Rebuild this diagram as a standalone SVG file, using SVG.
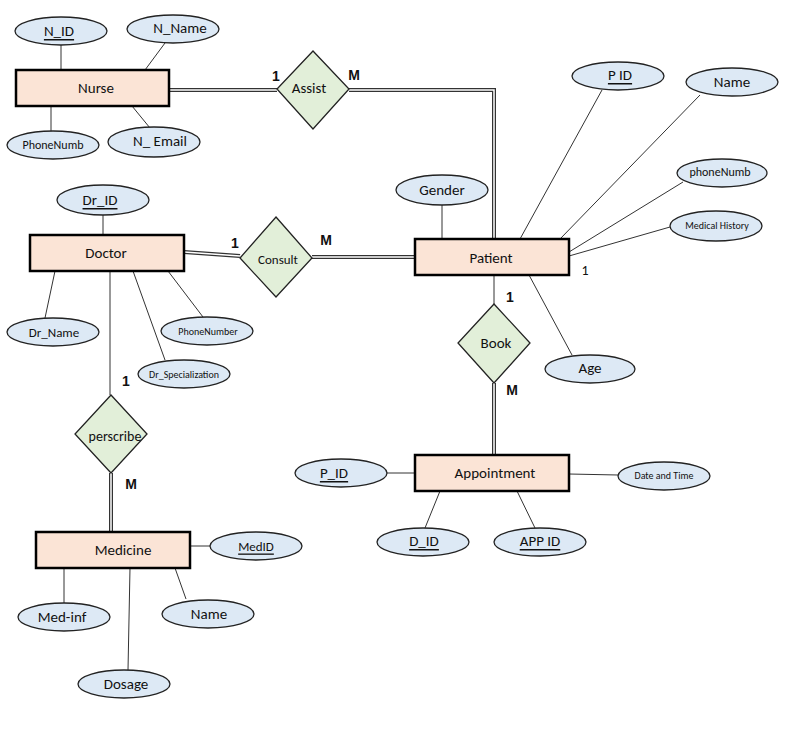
<svg xmlns="http://www.w3.org/2000/svg" width="796" height="729" viewBox="0 0 796 729">
<style>
.e{fill:#fbe4d6;stroke:#000;stroke-width:2.5}
.a{fill:#dde9f5;stroke:#222;stroke-width:1.3}
.r{fill:#e2efd9;stroke:#222;stroke-width:1.3}
.l{stroke:#333;stroke-width:1;fill:none}
.d{stroke:#333;stroke-width:4;fill:none}
.dw{stroke:#fff;stroke-width:1.5;fill:none}
text{font-family:Calibri,Carlito,"Liberation Sans",sans-serif;fill:#111;text-anchor:middle;dominant-baseline:central}
.c{font-family:"Liberation Sans",sans-serif;font-weight:bold;font-size:14px}
</style>
<rect width="796" height="729" fill="#fff"/>
<g id="connectors">
<path class="l" d="M61 45V70M165 43L145 70M51 106V131M132 106L150 128M103 215V235M55 271L45 318M110 271V395M133 271L165 360M168 271L203 317M442 205V239M520 239L602 90M560 239L700 95M569 252L683 182M569 256L670 227M529 275L572 355M387 473H415M569 474L618 475M440 491L425 528M517 491L535 528M190 546L210 546M64 568V603M130 568L128 670M175 568L186 599"/>
<path class="d" d="M169 90L277 90M349 90L494 90L494 239M184 252L240 256M312 257L415 257M494 383V455M111 473V532"/>
<path class="dw" d="M169 90L277 90M349 90L494 90L494 239M184 252L240 256M312 257L415 257M494 383V455M111 473V532"/>
<path class="l" d="M494 275V304"/>
</g>
<g id="nurse"><rect class="e" x="16" y="70" width="153" height="36"/><text x="96" y="88" font-size="15">Nurse</text></g>
<g id="n_id"><ellipse class="a" cx="61" cy="31" rx="46" ry="14"/><text x="59" y="31" font-size="15" text-decoration="underline">N_ID</text></g>
<g id="n_name"><ellipse class="a" cx="173" cy="29" rx="46" ry="14"/><text x="180" y="28" font-size="15">N_Name</text></g>
<g id="n_phone"><ellipse class="a" cx="53" cy="145" rx="46" ry="14"/><text x="53" y="145" font-size="12">PhoneNumb</text></g>
<g id="n_email"><ellipse class="a" cx="154" cy="142" rx="46" ry="15"/><text x="160" y="141" font-size="15">N_ Email</text></g>
<g id="assist"><polygon class="r" points="313,51 349,89 313,129 277,89"/><text x="309" y="88" font-size="15">Assist</text></g>
<g id="patient"><rect class="e" x="415" y="239" width="154" height="36"/><text x="491" y="258" font-size="15">Patient</text></g>
<g id="gender"><ellipse class="a" cx="442" cy="190" rx="46" ry="15"/><text x="442" y="190" font-size="15">Gender</text></g>
<g id="p_id"><ellipse class="a" cx="618" cy="76" rx="46" ry="14"/><text x="620" y="75" font-size="15" text-decoration="underline">P ID</text></g>
<g id="p_name"><ellipse class="a" cx="732" cy="82" rx="46" ry="14"/><text x="732" y="82" font-size="15">Name</text></g>
<g id="p_phone"><ellipse class="a" cx="722" cy="173" rx="45" ry="14"/><text x="720" y="172" font-size="12">phoneNumb</text></g>
<g id="p_hist"><ellipse class="a" cx="716" cy="226" rx="46" ry="15"/><text x="717" y="225" font-size="10">Medical History</text></g>
<g id="age"><ellipse class="a" cx="590" cy="369" rx="45" ry="14"/><text x="590" y="368" font-size="15">Age</text></g>
<g id="book"><polygon class="r" points="494,304 530,343 494,383 458,343"/><text x="496" y="343" font-size="15">Book</text></g>
<g id="appointment"><rect class="e" x="415" y="455" width="154" height="36"/><text x="495" y="473" font-size="15">Appointment</text></g>
<g id="a_pid"><ellipse class="a" cx="341" cy="473" rx="46" ry="14"/><text x="334" y="473" font-size="15" text-decoration="underline">P_ID</text></g>
<g id="a_dt"><ellipse class="a" cx="664" cy="476" rx="46" ry="14"/><text x="664" y="475" font-size="10">Date and Time</text></g>
<g id="a_did"><ellipse class="a" cx="423" cy="542" rx="46" ry="14"/><text x="424" y="541" font-size="15" text-decoration="underline">D_ID</text></g>
<g id="a_appid"><ellipse class="a" cx="540" cy="542" rx="46" ry="14"/><text x="540" y="541" font-size="15" text-decoration="underline">APP ID</text></g>
<g id="doctor"><rect class="e" x="30" y="235" width="154" height="36"/><text x="106" y="253" font-size="15">Doctor</text></g>
<g id="dr_id"><ellipse class="a" cx="103" cy="200" rx="46" ry="15"/><text x="100" y="200" font-size="15" text-decoration="underline">Dr_ID</text></g>
<g id="dr_name"><ellipse class="a" cx="53" cy="332" rx="46" ry="14"/><text x="54" y="332" font-size="13">Dr_Name</text></g>
<g id="dr_phone"><ellipse class="a" cx="207" cy="331" rx="46" ry="14"/><text x="208" y="331" font-size="10">PhoneNumber</text></g>
<g id="dr_spec"><ellipse class="a" cx="184" cy="374" rx="46" ry="14"/><text x="184" y="374" font-size="10">Dr_Specialization</text></g>
<g id="consult"><polygon class="r" points="276,217 312,258 276,297 240,258"/><text x="278" y="259" font-size="13">Consult</text></g>
<g id="perscribe"><polygon class="r" points="111,395 147,434 111,473 75,434"/><text x="115" y="436" font-size="14">perscribe</text></g>
<g id="medicine"><rect class="e" x="36" y="532" width="154" height="36"/><text x="123" y="550" font-size="15">Medicine</text></g>
<g id="medid"><ellipse class="a" cx="256" cy="546" rx="46" ry="14"/><text x="256" y="546" font-size="13" text-decoration="underline">MedID</text></g>
<g id="medinf"><ellipse class="a" cx="64" cy="617" rx="46" ry="14"/><text x="62" y="617" font-size="15">Med-inf</text></g>
<g id="m_name"><ellipse class="a" cx="208" cy="614" rx="46" ry="14"/><text x="209" y="614" font-size="15">Name</text></g>
<g id="dosage"><ellipse class="a" cx="124" cy="684" rx="46" ry="14"/><text x="126" y="684" font-size="15">Dosage</text></g>
<g id="labels">
<text class="c" x="276" y="76">1</text><text class="c" x="354" y="75">M</text>
<text class="c" x="235" y="243">1</text><text class="c" x="326" y="240">M</text>
<text class="c" x="510" y="297">1</text><text class="c" x="512" y="390">M</text>
<text x="585" y="270" font-size="14">1</text>
<text class="c" x="126" y="381">1</text><text class="c" x="131" y="484">M</text>
</g>
</svg>
